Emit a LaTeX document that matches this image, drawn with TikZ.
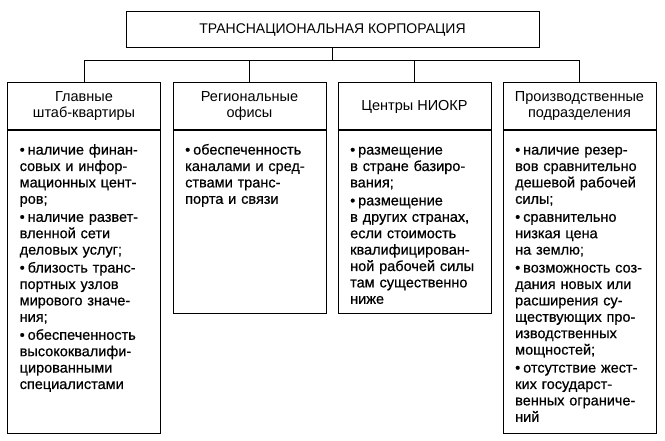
\documentclass[tikz,border=0pt]{standalone}
\usepackage{fontspec}
\setmainfont{Liberation Sans}
\newfontfamily\bodyfont[FakeBold=0.6]{Liberation Sans}
\usetikzlibrary{calc}
\newcommand\bitem[1]{\par\noindent\hangindent=8pt\hangafter=1\makebox[8pt][l]{\textbullet}\strut#1\par\vspace{1.6pt}}
\begin{document}
\begin{tikzpicture}[x=1pt,y=-1pt,
  box/.style={draw, line width=1pt, rectangle, inner sep=0pt},
  conn/.style={line width=1pt},
  divider/.style={line width=1.8pt},
  hdr/.style={box, minimum width=153pt, minimum height=47pt, align=center, font=\fontsize{14.5}{16}\selectfont},
  bodybox/.style={box, minimum width=153pt, anchor=north},
  bodytext/.style={anchor=north west, inner sep=0pt, text width=142pt, font=\bodyfont\fontsize{14.5}{16.4}\selectfont\raggedright}]
\useasboundingbox (0,0) rectangle (665,441);
% title
\node[box, minimum width=413pt, minimum height=36pt, font=\fontsize{14}{16}\selectfont] (tnc) at (332.5,30) {ТРАНСНАЦИОНАЛЬНАЯ КОРПОРАЦИЯ};
% headers
\node[hdr] (h1) at (84,106.5) {Главные\\штаб-квартиры};
\node[hdr] (h2) at (249.5,106.5) {Региональные\\офисы};
\node[hdr] (h3) at (414.5,106.5) {Центры НИОКР};
\node[hdr] (h4) at (579.5,106.5) {Производственные\\подразделения};
% bodies
\node[bodybox, minimum height=302pt] (b1) at (h1.south) {};
\node[bodybox, minimum height=183pt] (b2) at (h2.south) {};
\node[bodybox, minimum height=183pt] (b3) at (h3.south) {};
\node[bodybox, minimum height=302pt] (b4) at (h4.south) {};
% dividers
\foreach \h in {h1,h2,h3,h4} \draw[divider] (\h.south west) -- (\h.south east);
% connectors
\coordinate (bar) at (332,61);
\draw[conn] (tnc.south) -- (tnc.south |- bar);
\draw[conn] (h1.north) -- (h1.north |- bar) -- (h4.north |- bar) -- (h4.north);
\draw[conn] (h2.north) -- (h2.north |- bar);
\draw[conn] (h3.north) -- (h3.north |- bar);
% texts
\node[bodytext] (t1) at ($(b1.north west)+(12.5,7.5)$) {%
\bitem{наличие финан-\\совых и инфор-\\мационных цент-\\ров;}
\bitem{наличие развет-\\вленной сети\\деловых услуг;}
\bitem{близость транс-\\портных узлов\\мирового значе-\\ния;}
\bitem{обеспеченность\\высококвалифи-\\цированными\\специалистами}};
\node[bodytext] (t2) at ($(b2.north west)+(12.5,7.5)$) {%
\bitem{обеспеченность\\каналами и сред-\\ствами транс-\\порта и связи}};
\node[bodytext] (t3) at ($(b3.north west)+(12.5,7.5)$) {%
\bitem{размещение\\в стране базиро-\\вания;}
\bitem{размещение\\в других странах,\\если стоимость\\квалифицирован-\\ной рабочей силы\\там существенно\\ниже}};
\node[bodytext] (t4) at ($(b4.north west)+(12.5,7.5)$) {%
\bitem{наличие резер-\\вов сравнительно\\дешевой рабочей\\силы;}
\bitem{сравнительно\\низкая цена\\на землю;}
\bitem{возможность соз-\\дания новых или\\расширения су-\\ществующих про-\\изводственных\\мощностей;}
\bitem{отсутствие жест-\\ких государст-\\венных ограниче-\\ний}};
\end{tikzpicture}
\end{document}
